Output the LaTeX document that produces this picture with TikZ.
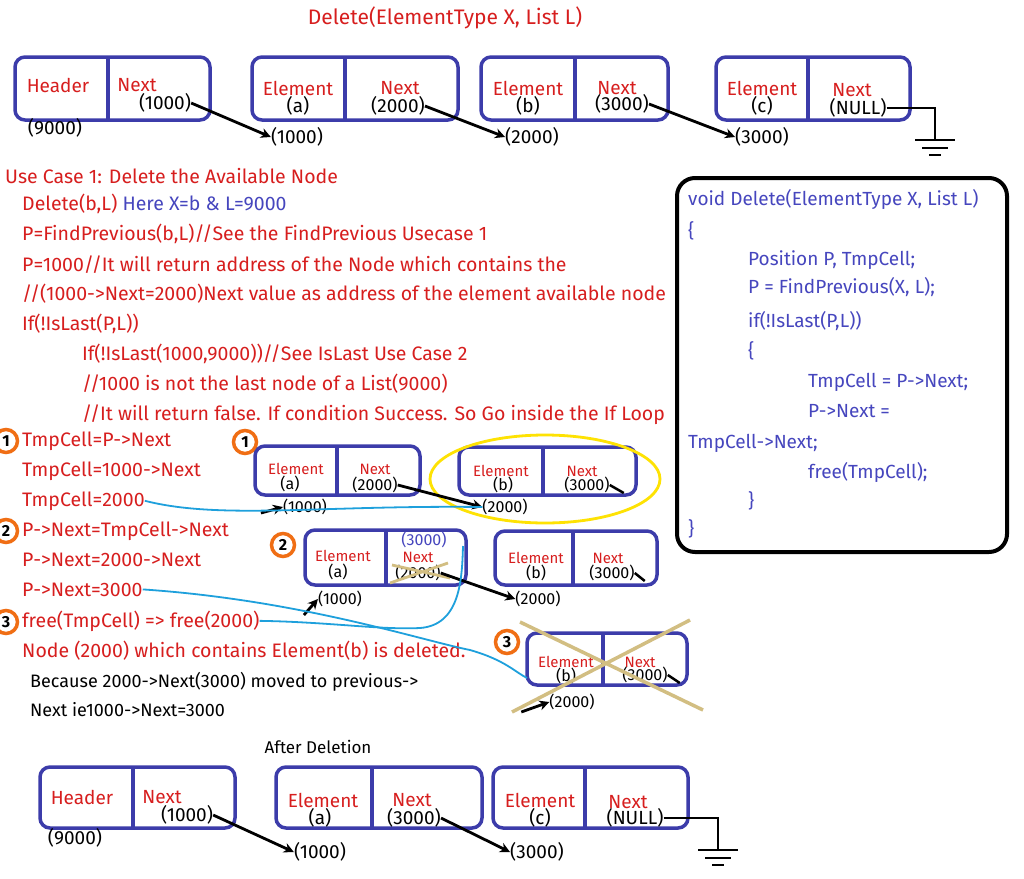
\documentclass[tikz,border=0pt]{standalone}
\usepackage{fontspec}
\setmainfont{Fira Sans}
\usetikzlibrary{arrows.meta,positioning}
\definecolor{cellblue}{RGB}{60,60,170}
\definecolor{txtred}{RGB}{215,30,30}
\definecolor{txtblue}{RGB}{70,70,190}
\definecolor{wire}{RGB}{30,160,220}
\definecolor{cross}{RGB}{210,190,130}
\definecolor{ring}{RGB}{240,110,20}
\tikzset{
  cellbox/.style={draw=cellblue, line width=3.5pt, rounded corners=10pt},
  lbl/.style={txtred, inner sep=0, font=\fontsize{19}{19}\selectfont},
  val/.style={black, inner sep=0, font=\fontsize{19}{19}\selectfont},
  small lbl/.style={txtred, inner sep=0, font=\fontsize{15}{15}\selectfont},
  small val/.style={black, inner sep=0, font=\fontsize{16}{16}\selectfont},
  code/.style={txtred, anchor=base west, inner sep=0, font=\fontsize{19.5}{20}\selectfont},
  blk/.style={black, anchor=base west, inner sep=0, font=\fontsize{18}{20}\selectfont},
  prog/.style={txtblue, anchor=base west, inner sep=0, font=\fontsize{19}{20}\selectfont},
  ptr/.style={black, line width=2.8pt, -{Stealth[length=10pt,width=10pt]}},
  stepmark/.style={circle, draw=ring, line width=3.5pt, inner sep=1pt, minimum size=23pt, font=\fontsize{16}{16}\selectfont\bfseries},
  link/.style={wire, line width=1.8pt},
  ground/.style={black, line width=2.8pt},
}
\newcommand{\cell}[5]{%
  \draw[cellbox] (#1,#2) rectangle (#3,#4);
  \draw[cellbox] (#5,#2) -- (#5,#4);}
\begin{document}
\begin{tikzpicture}[x=1pt,y=-1pt]
\useasboundingbox[fill=white] (0,0) rectangle (1024,878);

\node[lbl, font=\fontsize{21}{21}\selectfont] (title) at (445,18) {Delete(ElementType X, List L)};

% top list
\cell{15}{57}{210}{120}{108}
\node[lbl] (h1) at (58,85) {Header};
\node[lbl] at (137,85) {Next};
\node[val] (n1) at (165,103) {(1000)};
\node[val] at (55,128) {(9000)};

\cell{252}{57}{458}{120}{345}
\node[lbl] at (298,88) {Element};
\node[val] at (298,106) {(a)};
\node[lbl] at (400,88) {Next};
\node[val] (n2) at (398,106) {(2000)};
\node[val] (a1) at (297,137) {(1000)};

\cell{481}{57}{668}{120}{575}
\node[lbl] at (528,88) {Element};
\node[val] at (528,106) {(b)};
\node[lbl] at (617,88) {Next};
\node[val] (n3) at (622,104) {(3000)};
\node[val] (a2) at (532,137) {(2000)};

\cell{716}{57}{910}{120}{808}
\node[lbl] at (762,88) {Element};
\node[val] at (762,106) {(c)};
\node[lbl] at (852,90) {Next};
\node[val] (n4) at (858,108) {(NULL)};
\node[val] (a3) at (762,137) {(3000)};

\draw[ptr] (n1.east) -- (a1.west);
\draw[ptr] (n2.east) -- (a2.west);
\draw[ptr] (n3.east) -- (a3.west);
\coordinate (g1) at (935,140);
\draw[ground] (n4.east) -| (g1);
\draw[ground] (915,140) -- (955,140) (922,148) -- (948,148) (929,155) -- (941,155);

% walkthrough
\node[code] (u0) at (5,183) {Use Case 1: Delete the Available Node};
\node[code] (u1) at (22,210) {Delete(b,L) \textcolor{txtblue}{Here X=b \& L=9000}};
\node[code] (u2) at (22,240) {P=FindPrevious(b,L)//See the FindPrevious Usecase 1};
\node[code] (u3) at (22,271) {P=1000//It will return address of the Node which contains the};
\node[code] (u4) at (22,300) {//(1000->Next=2000)Next value as address of the element available node};
\node[code] (u5) at (22,330) {If(!IsLast(P,L))};
\node[code] (u6) at (82,360) {If(!IsLast(1000,9000))//See IsLast Use Case 2};
\node[code] (u7) at (82,390) {//1000 is not the last node of a List(9000)};
\node[code] (u8) at (82,420) {//It will return false. If condition Success. So Go inside the If Loop};
\node[code] (t1) at (22,446) {TmpCell=P->Next};
\node[code] (t2) at (22,476) {TmpCell=1000->Next};
\node[code] (t3) at (22,506) {TmpCell=2000};
\node[code] (p1) at (22,536) {P->Next=TmpCell->Next};
\node[code] (p2) at (22,566) {P->Next=2000->Next};
\node[code] (p3) at (22,596) {P->Next=3000};
\node[code] (f1) at (22,627) {free(TmpCell) => free(2000)};
\node[code] (f2) at (22,657) {Node (2000) which contains Element(b) is deleted.};
\node[blk] (f3) at (30,687) {Because 2000->Next(3000) moved to previous->};
\node[blk] (f4) at (30,716) {Next ie1000->Next=3000};
\node[stepmark] (s1) at (6,441) {1};
\node[stepmark] (s2) at (6,531) {2};
\node[stepmark] (s3) at (6,622) {3};

% code box
\draw[black, line width=4pt, rounded corners=18pt] (677,178) rectangle (1007,552);
\node[prog] (c1) at (688,205) {void Delete(ElementType X, List L)};
\node[prog] (c2) at (688,237) {\{};
\node[prog] (c3) at (748,265) {Position P, TmpCell;};
\node[prog] (c4) at (748,293) {P = FindPrevious(X, L);};
\node[prog] (c5) at (748,327) {if(!IsLast(P,L))};
\node[prog] (c6) at (748,357) {\{};
\node[prog] (c7) at (808,387) {TmpCell = P->Next;};
\node[prog] (c8) at (808,417) {P->Next =};
\node[prog] (c9) at (688,448) {TmpCell->Next;};
\node[prog] (c10) at (808,478) {free(TmpCell);};
\node[prog] (c11) at (748,507) {\}};
\node[prog] (c12) at (688,535) {\}};

% step 1
\node[stepmark] (m1) at (245,442) {1};
\cell{255}{446}{420}{495}{337}
\node[small lbl] at (296,469) {Element};
\node[small val] at (290,484) {(a)};
\node[small lbl] at (375,469) {Next};
\node[small val] (b1n) at (375,485) {(2000)};
\node[small val] (b1a) at (305,507) {(1000)};
\cell{459}{447}{636}{495}{543}
\node[small lbl] at (501,471) {Element};
\node[small val] at (503,485) {(b)};
\node[small lbl] at (582,471) {Next};
\node[small val] (b2n) at (587,485) {(3000)};
\node[small val] (b2a) at (505,507) {(2000)};
\draw[yellow!85!orange, line width=2.8pt] (545,479) ellipse [x radius=115, y radius=44];
\draw[ptr] (b1n.east) -- (b2a.west);
\draw[ptr] ([xshift=-22pt,yshift=-6pt]b1a.west) -- (b1a.west);
\draw[black, line width=2.5pt] (b2n.east) -- +(14,8);
\draw[link] (t3.east) .. controls (220,520) and (320,505) .. (b2a.west);

% step 2
\node[stepmark] (m2) at (283,545) {2};
\cell{305}{530}{466}{585}{386}
\node[small lbl] at (343,556) {Element};
\node[small val] at (338,572) {(a)};
\node[txtblue, inner sep=0, font=\fontsize{16}{16}\selectfont] (d1n3) at (424,540) {(3000)};
\node[small lbl] at (418,557) {Next};
\node[small val] (d1n) at (418,573) {(2000)};
\draw[cross, line width=2.8pt] (390,583) -- (448,563) (392,565) -- (450,578);
\node[small val] (d1a) at (340,599) {(1000)};
\cell{495}{531}{657}{585}{573}
\node[small lbl] at (536,558) {Element};
\node[small val] at (536,573) {(b)};
\node[small lbl] at (608,558) {Next};
\node[small val] (d2n) at (612,573) {(3000)};
\node[small val] (d2a) at (538,599) {(2000)};
\draw[ptr] (d1n.east) -- (d2a.west);
\draw[ptr] ([xshift=-14pt,yshift=-16pt]d1a.west) -- (d1a.west);
\draw[black, line width=2.5pt] (d2n.east) -- +(10,8);
\draw[link] (f1.east) .. controls (330,622) and (380,630) .. (420,628)
  .. controls (460,625) and (462,580) .. (463,546);

% step 3
\node[stepmark] (m3) at (507,642) {3};
\cell{527}{633}{687}{685}{603}
\node[small lbl] at (566,662) {Element};
\node[small val] at (566,676) {(b)};
\node[small lbl] at (640,662) {Next};
\node[small val] (e1n) at (645,675) {(3000)};
\node[small val] (e1a) at (572,702) {(2000)};
\draw[black, line width=2.5pt] (e1n.east) -- +(12,8);
\draw[ptr] ([xshift=-28pt,yshift=-10pt]e1a.west) -- (e1a.west);
\draw[cross, line width=3.5pt] (520,622) -- (703,710) (512,712) -- (690,620);
\draw[link] (p3.east) .. controls (300,600) and (420,640) .. (470,650)
  .. controls (505,660) and (515,672) .. (527,678);

% after deletion
\node[val, font=\fontsize{17}{17}\selectfont] (after) at (318,747) {After Deletion};
\cell{40}{767}{235}{828}{133}
\node[lbl] at (82,797) {Header};
\node[lbl] at (162,797) {Next};
\node[val] (q1) at (187,815) {(1000)};
\node[val] at (75,838) {(9000)};
\cell{276}{767}{482}{828}{372}
\node[lbl] at (323,800) {Element};
\node[val] at (320,818) {(a)};
\node[lbl] at (412,800) {Next};
\node[val] (q2) at (414,818) {(3000)};
\node[val] (qa1) at (320,852) {(1000)};
\cell{493}{767}{688}{828}{585}
\node[lbl] at (540,800) {Element};
\node[val] at (540,818) {(c)};
\node[lbl] at (628,802) {Next};
\node[val] (q3) at (635,818) {(NULL)};
\node[val] (qa2) at (537,852) {(3000)};
\draw[ptr] (q1.east) -- (qa1.west);
\draw[ptr] (q2.east) -- (qa2.west);
\coordinate (g2) at (718,850);
\draw[ground] (q3.east) -| (g2);
\draw[ground] (698,850) -- (738,850) (705,858) -- (731,858) (712,865) -- (724,865);
\end{tikzpicture}
\end{document}
